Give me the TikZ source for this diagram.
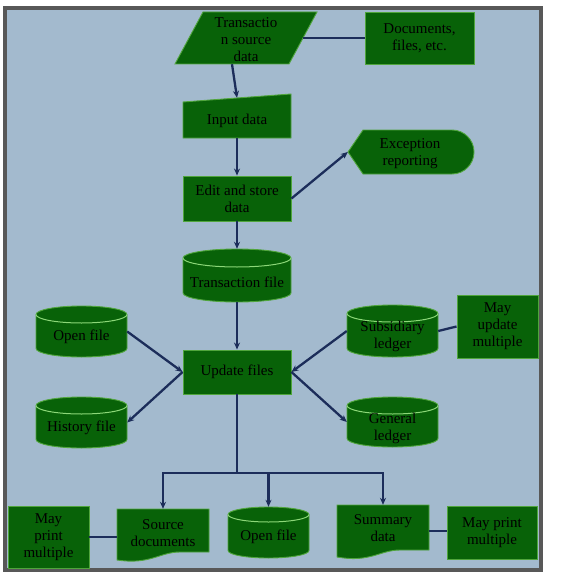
\documentclass[tikz,border=0pt]{standalone}
\usepackage{fontspec}
\setmainfont{Liberation Serif}
\usetikzlibrary{arrows.meta,calc}
\definecolor{bgblue}{RGB}{163,186,206}
\definecolor{framegray}{RGB}{88,88,88}
\definecolor{dkgreen}{RGB}{8,98,8}
\definecolor{edgegreen}{RGB}{80,165,60}
\definecolor{rimgreen}{RGB}{140,215,120}
\definecolor{navy}{RGB}{28,45,90}
\newcommand\txtfont{\fontsize{15}{17}\selectfont}
\newcommand\dcyl[5]{%
  \pgfmathsetmacro\cylrx{(#2-#1)/2}%
  \filldraw[shp] (#1,{-(#3+#5)}) arc[start angle=180,end angle=0,x radius=\cylrx pt,y radius=#5pt] -- (#2,{-(#4-#5)}) arc[start angle=0,end angle=-180,x radius=\cylrx pt,y radius=#5pt] -- cycle;
  \draw[rim] (#1,{-(#3+#5)}) arc[start angle=180,end angle=360,x radius=\cylrx pt,y radius=#5pt];
}
\begin{document}
\begin{tikzpicture}[x=1pt,y=1pt,
  shp/.style={fill=dkgreen,draw=edgegreen,line width=0.9pt},
  rim/.style={draw=rimgreen,line width=1pt},
  rbox/.style={shp,rectangle,inner sep=0pt,align=center,font=\txtfont,text=black},
  hit/.style={rectangle,inner sep=0pt,draw=none},
  txt/.style={inner sep=0pt,align=center,font=\txtfont,text=black},
  conn/.style={draw=navy,line width=2.3pt},
  arr/.style={conn,-{Stealth[length=7pt,width=6pt]}}]
\useasboundingbox (0,0) rectangle (561,-583);
\fill[white] (0,0) rectangle (561,-583);
\filldraw[fill=bgblue,draw=framegray,line width=4pt] (5,-8.5) rectangle (541,-570);

% custom shapes
\filldraw[shp] (175,-64) -- (203,-12) -- (317,-12) -- (289,-64) -- cycle;
\filldraw[shp] (183,-102) -- (291,-94) -- (291,-138) -- (183,-138) -- cycle;
\filldraw[shp] (348,-152) -- (363,-130) -- (452,-130) arc[start angle=90,end angle=-90,radius=22pt] -- (363,-174) -- cycle;
\dcyl{183}{291}{249}{302}{9}
\dcyl{36}{127}{306}{357}{8.5}
\dcyl{36}{127}{397}{448}{8.5}
\dcyl{347}{438}{305}{357}{8.5}
\dcyl{347}{438}{397}{447}{8.5}
\dcyl{228}{309}{507}{558}{7.5}
\filldraw[shp] (117,-509) -- (209,-509) -- (209,-552) -- (180,-552) .. controls (160,-552) and (150,-565) .. (117,-560) -- cycle;
\filldraw[shp] (337,-505) -- (429,-505) -- (429,-550) -- (400,-550) .. controls (380,-550) and (370,-563) .. (337,-557) -- cycle;

% rectangle nodes
\node[rbox,minimum width=109pt,minimum height=52pt] (docs) at (419.5,-38) {Documents,\\files, etc.};
\node[rbox,minimum width=108pt,minimum height=45pt] (edit) at (237,-198.5) {Edit and store\\data};
\node[rbox,minimum width=108pt,minimum height=44pt] (upd) at (237,-372) {Update files};
\node[rbox,minimum width=81pt,minimum height=63pt] (mum) at (497.5,-326.5) {May\\update\\multiple};
\node[rbox,minimum width=81pt,minimum height=62pt] (mpl) at (48.5,-537) {May\\print\\multiple};
\node[rbox,minimum width=90pt,minimum height=53pt] (mpr) at (492,-532.5) {May print\\multiple};

% anchor nodes for custom shapes
\node[hit,minimum width=114pt,minimum height=52pt] (src) at (246,-38) {};
\node[hit,minimum width=108pt,minimum height=44pt] (inp) at (237,-116) {};
\node[hit,minimum width=126pt,minimum height=44pt] (exc) at (411,-152) {};
\node[hit,minimum width=108pt,minimum height=53pt] (tf) at (237,-275.5) {};
\node[hit,minimum width=91pt,minimum height=51pt] (of1) at (81.5,-331.5) {};
\node[hit,minimum width=91pt,minimum height=51pt] (hf) at (81.5,-422.5) {};
\node[hit,minimum width=91pt,minimum height=52pt] (sub) at (392.5,-331) {};
\node[hit,minimum width=91pt,minimum height=50pt] (gl) at (392.5,-422) {};
\node[hit,minimum width=92pt,minimum height=51pt] (sd) at (163,-534.5) {};
\node[hit,minimum width=81pt,minimum height=51pt] (of2) at (268.5,-532.5) {};
\node[hit,minimum width=92pt,minimum height=52pt] (sum) at (383,-531) {};

% texts
\node[txt] (src-t) at (246,-40) {Transactio\\n source\\data};
\node[txt] (inp-t) at (237,-121) {Input data};
\node[txt] (exc-t) at (410,-154) {Exception\\reporting};
\node[txt] (tf-t) at (237,-282) {Transaction file};
\node[txt] (of1-t) at (81.5,-337) {Open file};
\node[txt] (hf-t) at (81.5,-428) {History file};
\node[txt] (sub-t) at (392.5,-336.5) {Subsidiary\\ledger};
\node[txt] (gl-t) at (392.5,-428) {General\\ledger};
\node[txt] (sd-t) at (163,-533.5) {Source\\documents};
\node[txt] (of2-t) at (268.5,-537) {Open file};
\node[txt] (sum-t) at (383,-528.5) {Summary\\data};

% connectors
\draw[conn] (src.east) -- (docs.west);
\draw[arr] ($(src.south)+(-14,0)$) -- ($(inp.north)+(0,-4)$);
\draw[arr] (inp.south) -- (edit.north);
\draw[arr] (edit.east) -- (exc.west);
\draw[arr] (edit.south) -- (tf.north);
\draw[arr] (tf.south) -- (upd.north);
\draw[arr] (of1.east) -- (upd.west);
\draw[arr] (upd.west) -- (hf.east);
\draw[arr] (sub.west) -- (upd.east);
\draw[arr] (upd.east) -- (gl.west);
\draw[conn] (sub.east) -- (mum.west);
\coordinate (bus) at (237,-473);
\draw[conn] (upd.south) -- (bus);
\draw[arr] (bus) -| (sd.north);
\draw[arr] (bus) -| (of2.north);
\draw[arr] (bus) -| (sum.north);
\draw[conn] (mpl.east) -- (mpl.east -| sd.west);
\draw[conn] (sum.east) -- (sum.east -| mpr.west);
\end{tikzpicture}
\end{document}
